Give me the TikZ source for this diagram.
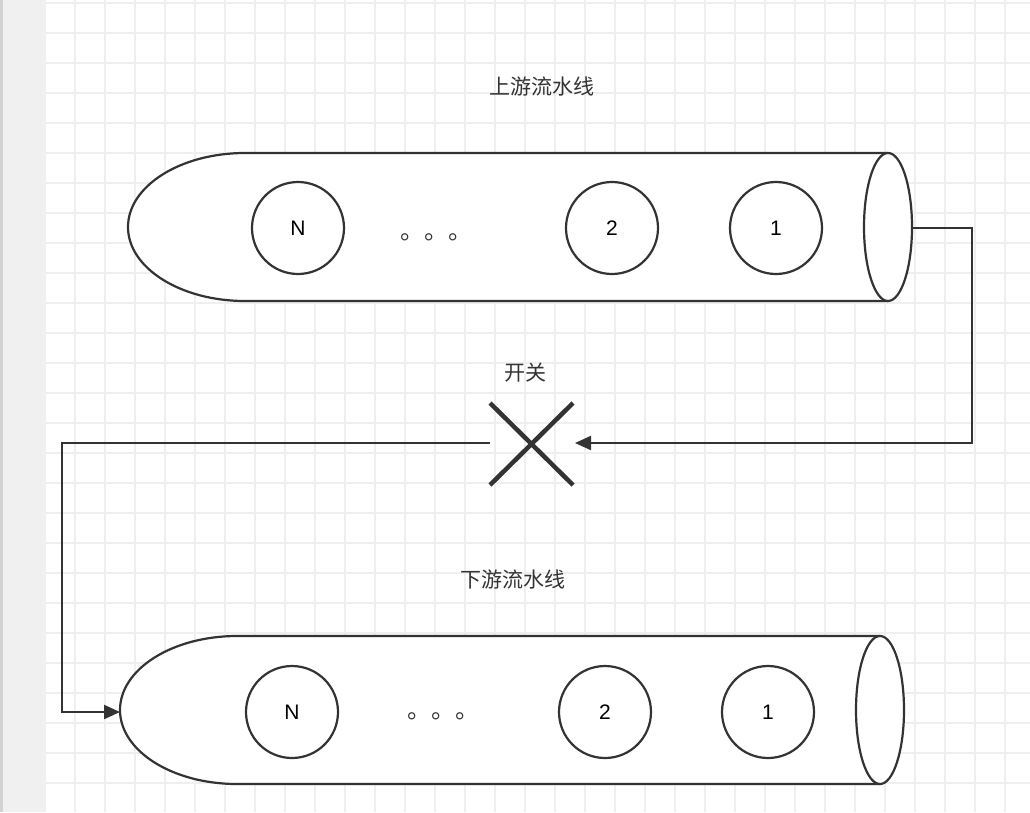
\documentclass[tikz,border=0pt]{standalone}
\usepackage{fontspec}
\setmainfont{Liberation Sans}
\newfontfamily\cjk{Noto Sans CJK SC}
\usetikzlibrary{arrows.meta}
\definecolor{ln}{HTML}{333333}
\definecolor{gridc}{HTML}{EFEFEF}
\begin{document}
\begin{tikzpicture}[x=1pt,y=-1pt,
  pipe/.style={draw=ln,line width=2.2pt,fill=white},
  ball/.style={circle,draw=ln,line width=2.2pt,minimum size=92pt,inner sep=0pt,font=\fontsize{21}{21}\selectfont},
  lbl/.style={font=\cjk\fontsize{21}{21}\selectfont,text=ln},
  dots/.style={font=\cjk\fontsize{24}{24}\selectfont,text=ln},
  conn/.style={draw=ln,line width=2.2pt},
  tip/.style={-{Triangle[length=16pt,width=14pt]}}]
\useasboundingbox (0,0) rectangle (1030,812);
\fill[white] (0,0) rectangle (1030,812);
\foreach \x in {45,75,...,1030} \draw[gridc,line width=1.5pt] (\x,0) -- (\x,812);
\foreach \y in {3,33,...,812} \draw[gridc,line width=1.5pt] (45,\y) -- (1030,\y);
\fill[gray!12] (0,0) rectangle (45,812);
\fill[gray!35] (0,0) rectangle (3,812);
% upper pipe
\draw[pipe] (888,153) -- (245,153) arc[start angle=270,end angle=90,x radius=117,y radius=74] -- (888,301);
\draw[pipe] (888,227) ellipse[x radius=24,y radius=74];
\node[ball] (u1) at (298,228) {N};
\node[ball] (u2) at (612,228) {2};
\node[ball] (u3) at (776,228) {1};
\node[dots] (ud) at (436,237) {。。。};
\node[lbl] (ut) at (542,87) {上游流水线};
% lower pipe
\draw[pipe] (880,636) -- (237,636) arc[start angle=270,end angle=90,x radius=117,y radius=74] -- (880,784);
\draw[pipe] (880,710) ellipse[x radius=24,y radius=74];
\node[ball] (l1) at (292,712) {N};
\node[ball] (l2) at (605,712) {2};
\node[ball] (l3) at (768,712) {1};
\node[dots] (ld) at (443,716) {。。。};
\node[lbl] (lt) at (513,579) {下游流水线};
% switch
\node[lbl] (st) at (525,373) {开关};
\coordinate (sw) at (531,444);
\draw[ln,line width=4.5pt] (490,403) -- (573,485) (573,403) -- (490,485);
\coordinate (uout) at (912,228);
\coordinate (swin) at (575,443);
\coordinate (swout) at (490,443);
\coordinate (lin) at (120,712);
\draw[conn,tip] (uout) -- (972,228) -- (972,443) -- (swin);
\draw[conn,tip] (swout) -- (62,443) -- (62,712) -- (lin);
\end{tikzpicture}
\end{document}
